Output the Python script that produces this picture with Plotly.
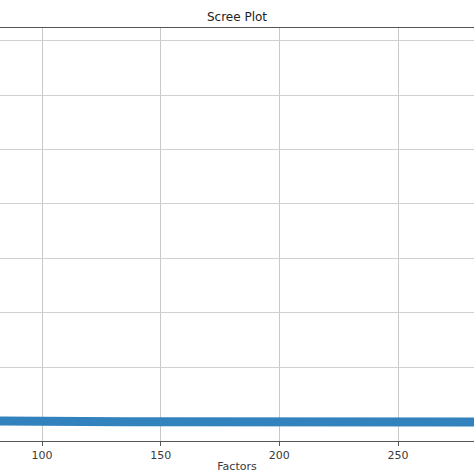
import plotly.graph_objects as go

# scree plot data (visible part of the curve, factors 80..285)
factors = [80, 85, 90, 95, 100, 105, 110, 115, 120, 125, 130, 135, 140, 145,
           150, 155, 160, 165, 170, 175, 180, 185, 190, 195, 200, 205, 210,
           215, 220, 225, 230, 235, 240, 245, 250, 255, 260, 265, 270, 275,
           280, 285]
eigenvalues = [0.020, 0.015, 0.010, 0.006, 0.005, 0.005, 0.004, 0.004, 0.004,
               0.004, 0.004, 0.003, 0.003, 0.003, 0.003, 0.003, 0.003, 0.003,
               0.003, 0.003, 0.002, 0.002, 0.002, 0.002, 0.002, 0.002, 0.002,
               0.002, 0.002, 0.002, 0.002, 0.001, 0.001, 0.001, 0.001, 0.001,
               0.001, 0.001, 0.001, 0.001, 0.001, 0.001]

x_ticks = [100, 150, 200, 250]

fig = go.Figure()
fig.add_trace(go.Scatter(x=factors, y=eigenvalues, mode="lines",
                         line=dict(color="#3282bd", width=9), showlegend=False))

fig.update_layout(
    width=474, height=474,
    margin=dict(l=0, r=0, t=28, b=33),
    paper_bgcolor="white", plot_bgcolor="white",
    font=dict(family="DejaVu Sans", size=11, color="#3a3a3a"),
    title=dict(text="Scree Plot", x=0.5, xanchor="center", y=1 - 17 / 474, yanchor="middle",
               font=dict(size=12, color="#222222")),
)
fig.update_xaxes(range=[82.3, 282.0], tickvals=x_ticks, showgrid=True, gridcolor="#c8c8c8",
                 gridwidth=1, zeroline=False, showline=True, linecolor="#555555", linewidth=1,
                 mirror=True, ticks="outside", ticklen=4, tickcolor="#555555",
                 title=dict(text="Factors", standoff=1, font=dict(size=11)))
fig.update_yaxes(range=[-0.35, 7.23], dtick=1, showgrid=True, gridcolor="#d0d0d0",
                 gridwidth=1, zeroline=False, showticklabels=False, showline=False)

# drop the page margin so the figure sits at the window corner
fig.write_html("out.html", config={"displayModeBar": False},
               post_script="document.body.style.margin='0';")
